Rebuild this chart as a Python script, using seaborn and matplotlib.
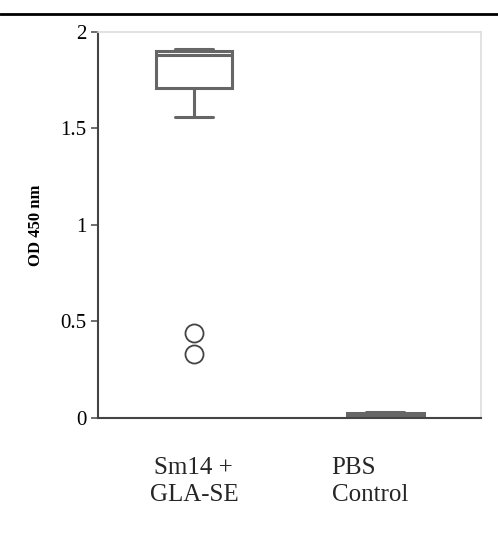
import matplotlib
matplotlib.use("Agg")
import matplotlib.pyplot as plt
import seaborn as sns
import pandas as pd

groups = ["Sm14 +\nGLA-SE", "PBS\nControl"]
sm14_values = [0.33, 0.44, 1.56, 1.71, 1.72, 1.80, 1.88, 1.89, 1.895, 1.90, 1.905, 1.91, 1.912]
pbs_values = [0.012, 0.015, 0.018, 0.02, 0.022, 0.025, 0.028, 0.03]
y_ticks = [0, 0.5, 1, 1.5, 2]
y_labels = ["0", "0.5", "1", "1.5", "2"]

df = pd.DataFrame({
    "grupo": [groups[0]] * len(sm14_values) + [groups[1]] * len(pbs_values),
    "od": sm14_values + pbs_values,
})

sns.set_style("white")
plt.rcParams["font.family"] = ["Liberation Serif", "DejaVu Serif"]

fig = plt.figure(figsize=(4.98, 5.5), dpi=100)
ax = fig.add_axes([0.197, 0.24, 0.769, 0.702])

line = "#666666"
sns.boxplot(data=df, x="grupo", y="od", order=groups, width=0.4, whis=1.5,
            color="white", linewidth=2.2, ax=ax,
            boxprops=dict(edgecolor=line, facecolor="white"),
            medianprops=dict(color=line), whiskerprops=dict(color=line),
            capprops=dict(color=line),
            flierprops=dict(marker="o", markersize=13, markerfacecolor="white",
                            markeredgecolor="#444444", markeredgewidth=1.3))

ax.set_xlim(-0.5, 1.5)
ax.set_ylim(0, 2)
ax.set_yticks(y_ticks)
ax.set_yticklabels(y_labels, fontsize=15, color="black")
ax.set_xticks([-0.5, 0.5, 1.5])
ax.set_xticklabels([])
ax.tick_params(axis="x", direction="out", length=8, width=1.2, color="#555555")
ax.tick_params(axis="y", direction="out", length=5, width=1.2, color="#555555", left=True)
ax.set_xlabel("")
ax.set_ylabel("OD 450 nm", fontsize=12, fontweight="bold", color="black", labelpad=12)

for s in ["left", "bottom"]:
    ax.spines[s].set_color("#444444")
    ax.spines[s].set_linewidth(1.5)
for s in ["top", "right"]:
    ax.spines[s].set_color("#dddddd")
    ax.spines[s].set_linewidth(1.2)

ax.text(0, -0.2, groups[0], transform=ax.transData, ha="center", va="top", fontsize=18, linespacing=1.3)
ax.text(0.72, -0.2, groups[1], transform=ax.transData, ha="left", va="top", fontsize=18, linespacing=1.3)

fig.add_artist(plt.Line2D([0, 1], [1 - 14 / 550, 1 - 14 / 550], color="black", lw=2))

fig.savefig("out.png", dpi=100)
